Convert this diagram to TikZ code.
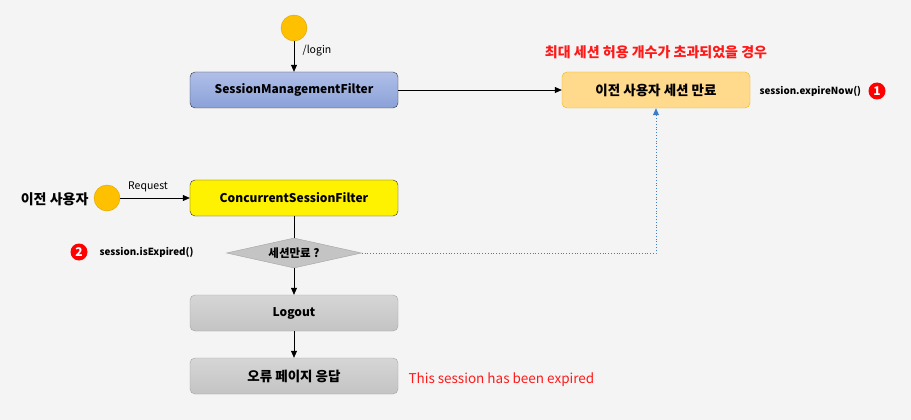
\documentclass[tikz,border=0pt]{standalone}
\usepackage{fontspec}
\setmainfont{Noto Sans CJK KR}
\usetikzlibrary{arrows.meta, shapes.geometric}
\usetikzlibrary{positioning}
\definecolor{bgcol}{HTML}{F4F4F4}
\definecolor{startcol}{HTML}{FFC000}
\definecolor{startline}{HTML}{D9A300}
\definecolor{bluetop}{HTML}{B0BFE8}
\definecolor{bluebot}{HTML}{8AA1D8}
\definecolor{orangefill}{HTML}{FFD98C}
\definecolor{orangeline}{HTML}{F2B700}
\definecolor{graytop}{HTML}{D6D6D6}
\definecolor{graybot}{HTML}{C4C4C4}
\definecolor{grayline}{HTML}{A3A3A3}
\definecolor{dotblue}{HTML}{3B7DCB}
\definecolor{redtext}{HTML}{FF1A1A}

\begin{document}
\begin{tikzpicture}[x=1pt, y=-1pt,
		every node/.style={font=\small},
		filterbox/.style={draw, rounded corners=5pt, minimum width=208pt, minimum height=36pt, font=\bfseries\fontsize{12}{14}\selectfont},
		korlabel/.style={font=\bfseries\fontsize{13.5}{15}\selectfont},
		startdot/.style={circle, fill=startcol, draw=startline, minimum size=26pt, inner sep=0pt},
		badge/.style={circle, fill=red, text=white, inner sep=0pt, minimum size=17pt, font=\bfseries\fontsize{12}{12}\selectfont},
		codetext/.style={font=\bfseries\fontsize{9.8}{11}\selectfont},
		flow/.style={-{Triangle[width=6pt,length=7pt]}, semithick}]
		\useasboundingbox[fill=bgcol] (0,0) rectangle (911,420);
		
		% 로그인 경로
		\node[startdot] (login) at (294,28) {};
		\node[filterbox, top color=bluetop, bottom color=bluebot, draw=black!80] (smf) at (294,90) {SessionManagementFilter};
		\node[filterbox, korlabel, minimum width=188pt, fill=orangefill, draw=orangeline] (expire) at (656,90) {이전 사용자 세션 만료};
		\node[korlabel, font=\bfseries\fontsize{14}{16}\selectfont, text=redtext] (maxmsg) at (656,52) {최대 세션 허용 개수가 초과되었을 경우};
		\node[codetext, anchor=west] (expnow) at (756,91) {session.expireNow()};
		\node[badge] (one) at (877,91) {1};
		
		\draw[flow] (login) -- node[right, pos=0.3, xshift=5pt, font=\fontsize{10.5}{12}\selectfont]{/login} (smf);
		\draw[flow] (smf) -- (expire);
		
		% 이전 사용자 요청
		\node[startdot] (user) at (107,198) {};
		\node[korlabel, font=\bfseries\fontsize{14}{16}\selectfont, anchor=east] (userlbl) at (92,199) {이전 사용자};
		\node[filterbox, fill=yellow, draw=black!80] (csf) at (294,198) {ConcurrentSessionFilter};
		\node[diamond, fill=graybot, draw=grayline, minimum width=135pt, minimum height=30pt, aspect=4.5, inner sep=0pt, font=\bfseries\fontsize{11.5}{13}\selectfont] (check) at (294,253) {세션만료 ?};
		\node[badge] (two) at (79,252) {2};
		\node[codetext, anchor=west] (isexp) at (96,252) {session.isExpired()};
		\node[filterbox, top color=graytop, bottom color=graybot, draw=grayline] (logout) at (294,313) {Logout};
		\node[filterbox, korlabel, top color=graytop, bottom color=graybot, draw=grayline] (errpage) at (294,376) {오류 페이지 응답};
		\node[text=redtext, anchor=west, font=\fontsize{13.5}{15}\selectfont] (expmsg) at (405,380) {This session has been expired};
		
		\draw[flow] (user) -- node[above, pos=0.4, yshift=2pt, font=\fontsize{10.5}{12}\selectfont]{Request} (csf);
		\draw[semithick] (csf) -- (check);
		\draw[flow] (check) -- (logout);
		\draw[flow] (logout) -- (errpage);
		\draw[dotblue, dotted, thick, -{Triangle[width=6pt,length=7pt]}] (check.east) -| (expire.south);
	\end{tikzpicture}
\end{document}
